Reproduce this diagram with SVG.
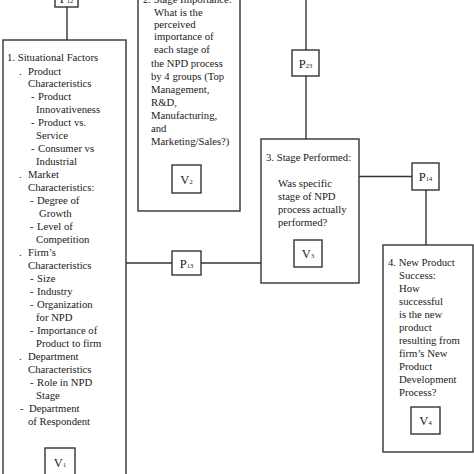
<svg xmlns="http://www.w3.org/2000/svg" width="474" height="474" viewBox="0 0 474 474">
<style>
.b{fill:#fff;stroke:#333;stroke-width:1.4}
.c{stroke:#333;stroke-width:1.4;fill:none}
text{font-family:"Liberation Serif","Times New Roman",serif;font-size:10.7px;fill:#1a1a1a}
.v{font-size:12.5px;text-anchor:middle}
.s{font-size:6.5px}
</style>
<rect width="474" height="474" fill="#fff"/>
<g id="connectors">
<line class="c" x1="67" y1="7" x2="67" y2="40"/>
<line class="c" x1="306" y1="0" x2="306" y2="139"/>
<line class="c" x1="126" y1="263" x2="261" y2="263"/>
<line class="c" x1="359" y1="176.5" x2="412" y2="176.5"/>
<line class="c" x1="426" y1="190" x2="426" y2="245"/>
</g>
<g id="node-p12">
<rect class="b" x="55" y="-20" width="23" height="27"/>
<text class="v" x="66.5" y="3">P<tspan class="s">12</tspan></text>
</g>
<g id="node-1">
<rect class="b" x="3" y="40" width="123" height="450"/>
<text x="7" y="61">1. Situational Factors</text>
<text x="19" y="74.5">.</text><text x="28" y="74.5">Product</text>
<text x="28" y="87">Characteristics</text>
<text x="31" y="100">-</text><text x="38" y="100">Product</text>
<text x="36" y="113">Innovativeness</text>
<text x="31" y="126">-</text><text x="38" y="126">Product vs.</text>
<text x="36" y="139">Service</text>
<text x="31" y="151.5">-</text><text x="38" y="151.5">Consumer vs</text>
<text x="36" y="165">Industrial</text>
<text x="19" y="178">.</text><text x="28" y="178">Market</text>
<text x="28" y="190.5">Characteristics:</text>
<text x="30" y="204">-</text><text x="37" y="204">Degree of</text>
<text x="39" y="216.5">Growth</text>
<text x="30" y="230">-</text><text x="37" y="230">Level of</text>
<text x="36" y="243">Competition</text>
<text x="19" y="256">.</text><text x="28" y="256">Firm’s</text>
<text x="28" y="269">Characteristics</text>
<text x="30" y="282">-</text><text x="37" y="282">Size</text>
<text x="30" y="295">-</text><text x="37" y="295">Industry</text>
<text x="30" y="308">-</text><text x="37" y="308">Organization</text>
<text x="36" y="321">for NPD</text>
<text x="30" y="334">-</text><text x="37" y="334">Importance of</text>
<text x="36" y="346.5">Product to firm</text>
<text x="19" y="360">.</text><text x="28" y="360">Department</text>
<text x="28" y="373">Characteristics</text>
<text x="30" y="386">-</text><text x="37" y="386">Role in NPD</text>
<text x="36" y="399">Stage</text>
<text x="20" y="412">-</text><text x="29" y="412">Department</text>
<text x="28" y="424.5">of Respondent</text>
<rect class="b" x="45" y="448" width="30" height="40"/>
<text class="v" x="60" y="467">V<tspan class="s">1</tspan></text>
</g>
<g id="node-2">
<rect class="b" x="138" y="-20" width="102" height="231"/>
<text x="143" y="3">2. Stage Importance:</text>
<text x="154" y="15.5">What is the</text>
<text x="154" y="28">perceived</text>
<text x="154" y="40">importance of</text>
<text x="154" y="53">each stage of</text>
<text x="151" y="66.5">the NPD process</text>
<text x="151" y="80">by 4 groups (Top</text>
<text x="151" y="93">Management,</text>
<text x="151" y="105.5">R&amp;D,</text>
<text x="151" y="119">Manufacturing,</text>
<text x="151" y="131.5">and</text>
<text x="151" y="145">Marketing/Sales?)</text>
<rect class="b" x="172" y="165" width="29" height="28"/>
<text class="v" x="186.5" y="183.5">V<tspan class="s">2</tspan></text>
</g>
<g id="node-p23">
<rect class="b" x="292" y="50" width="27" height="26"/>
<text class="v" x="305.5" y="67.5">P<tspan class="s">23</tspan></text>
</g>
<g id="node-p13">
<rect class="b" x="172" y="251" width="29" height="24"/>
<text class="v" x="186.5" y="267.5">P<tspan class="s">13</tspan></text>
</g>
<g id="node-3">
<rect class="b" x="261" y="139" width="98" height="144"/>
<text x="266" y="160.5">3. Stage Performed:</text>
<text x="278" y="187">Was specific</text>
<text x="278" y="200">stage of NPD</text>
<text x="278" y="212.5">process actually</text>
<text x="278" y="225.5">performed?</text>
<rect class="b" x="294" y="240" width="28" height="27"/>
<text class="v" x="308" y="258">V<tspan class="s">3</tspan></text>
</g>
<g id="node-p14">
<rect class="b" x="412" y="163" width="27" height="27"/>
<text class="v" x="425.5" y="181">P<tspan class="s">14</tspan></text>
</g>
<g id="node-4">
<rect class="b" x="383" y="245" width="90" height="207"/>
<text x="388" y="266">4. New Product</text>
<text x="399" y="279">Success:</text>
<text x="399" y="291.5">How</text>
<text x="399" y="304.5">successful</text>
<text x="399" y="318">is the new</text>
<text x="399" y="331">product</text>
<text x="399" y="344">resulting from</text>
<text x="399" y="357">firm’s New</text>
<text x="399" y="370">Product</text>
<text x="399" y="383">Development</text>
<text x="399" y="396">Process?</text>
<rect class="b" x="411" y="407" width="29" height="27"/>
<text class="v" x="425.5" y="425">V<tspan class="s">4</tspan></text>
</g>
</svg>
